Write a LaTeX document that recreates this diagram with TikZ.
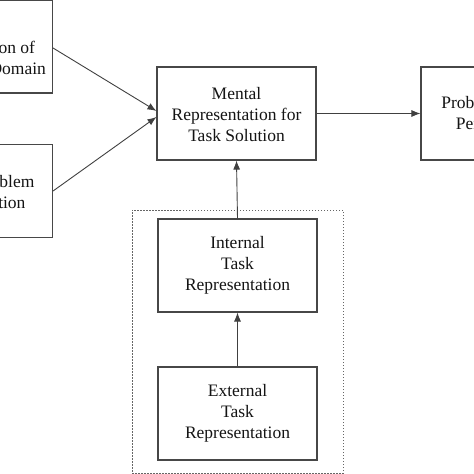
\documentclass[tikz,border=0pt]{standalone}
\usepackage{fontspec}
\setmainfont{Liberation Serif}
\usetikzlibrary{arrows.meta}
\begin{document}
\begin{tikzpicture}[x=1pt,y=-1pt,
  box/.style={draw=black!72, line width=1.1pt, minimum width=159pt, minimum height=93pt,
    inner sep=0pt, align=center, text=black!92, font=\fontsize{17.5}{21}\selectfont},
  conn/.style={draw=black!75, line width=0.9pt, -{Latex[length=9pt,width=7pt]}},
  group/.style={draw=black!60, line width=0.9pt, dash pattern=on 1.5pt off 1.5pt,
    minimum width=211pt, minimum height=263pt, inner sep=0pt}]
\useasboundingbox (0,0) rectangle (474,474);
\clip (0,0) rectangle (474,474);
\node[group] (C) at (237.5,341.5) {};
\node[box] (TL) at (-27,46.5) {\mbox{}\\[14pt]Representation of\\the Problem Domain};
\node[box] (BL) at (-27,191) {\rule{0pt}{18pt}External Problem\\Representation};
\node[box] (M) at (236.5,113.5) {\rule{0pt}{14pt}Mental\\Representation for\\Task Solution};
\node[box] (P) at (500.5,113.5) {Problem Solving\\Performance};
\node[box] (I) at (237.5,265.5) {Internal\\Task\\Representation};
\node[box] (E) at (237.5,413.5) {External\\Task\\Representation};
\draw[conn] ([yshift=-1.5pt]TL.east) -- ([yshift=2.5pt]M.west);
\draw[conn] (BL.east) -- ([yshift=-3.5pt]M.west);
\draw[conn] (M.east) -- (P.west);
\draw[conn] (I.north) -- (M.south);
\draw[conn] (E.north) -- (I.south);
\end{tikzpicture}
\end{document}
